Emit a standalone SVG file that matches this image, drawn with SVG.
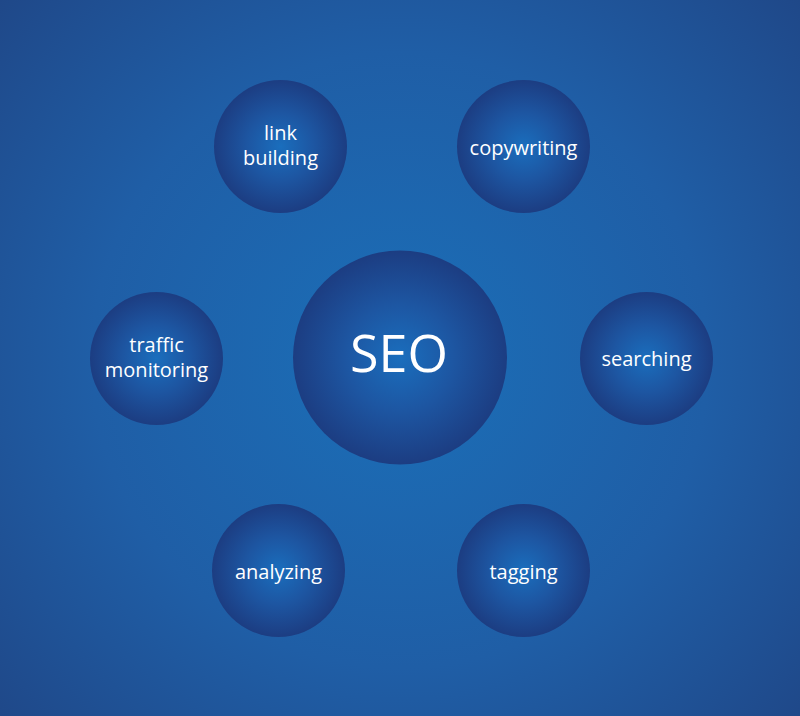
<svg xmlns="http://www.w3.org/2000/svg" width="800" height="716" viewBox="0 0 800 716">
  <defs>
    <radialGradient id="bg" cx="400" cy="360" r="560" gradientUnits="userSpaceOnUse">
      <stop offset="0" stop-color="#1b6fb8"/>
      <stop offset="0.55" stop-color="#1f5ea6"/>
      <stop offset="1" stop-color="#1f4686"/>
    </radialGradient>
    <radialGradient id="ball" cx="0.5" cy="0.5" r="0.5">
      <stop offset="0" stop-color="#1a6ebd"/>
      <stop offset="0.5" stop-color="#1d56a2"/>
      <stop offset="1" stop-color="#1c3d82"/>
    </radialGradient>
    <style>
      .node circle { fill: url(#ball); }
      .lbl { font-family: "Open Sans", "Noto Sans", sans-serif; font-size: 20px; fill: #ffffff; text-anchor: middle; }
      .big { font-family: "Open Sans", "Noto Sans", sans-serif; font-size: 52px; fill: #ffffff; text-anchor: middle; }
    </style>
  </defs>
  <rect width="800" height="716" fill="url(#bg)"/>
  <g id="connectors"/>
  <g id="seo" class="node">
    <circle cx="400" cy="357.5" r="107"/>
    <text class="big" x="399" y="372">SEO</text>
  </g>
  <g id="link-building" class="node">
    <circle cx="280.5" cy="146.5" r="66.5"/>
    <text class="lbl" x="280.5" y="140">link</text>
    <text class="lbl" x="280.5" y="165">building</text>
  </g>
  <g id="copywriting" class="node">
    <circle cx="523.5" cy="146.5" r="66.5"/>
    <text class="lbl" x="523.5" y="155">copywriting</text>
  </g>
  <g id="traffic-monitoring" class="node">
    <circle cx="156.5" cy="358.5" r="66.5"/>
    <text class="lbl" x="156.5" y="352">traffic</text>
    <text class="lbl" x="156.5" y="377">monitoring</text>
  </g>
  <g id="searching" class="node">
    <circle cx="646.5" cy="358.5" r="66.5"/>
    <text class="lbl" x="646.5" y="366">searching</text>
  </g>
  <g id="analyzing" class="node">
    <circle cx="278.5" cy="570.5" r="66.5"/>
    <text class="lbl" x="278.5" y="579">analyzing</text>
  </g>
  <g id="tagging" class="node">
    <circle cx="523.5" cy="570.5" r="66.5"/>
    <text class="lbl" x="523.5" y="579">tagging</text>
  </g>
</svg>
